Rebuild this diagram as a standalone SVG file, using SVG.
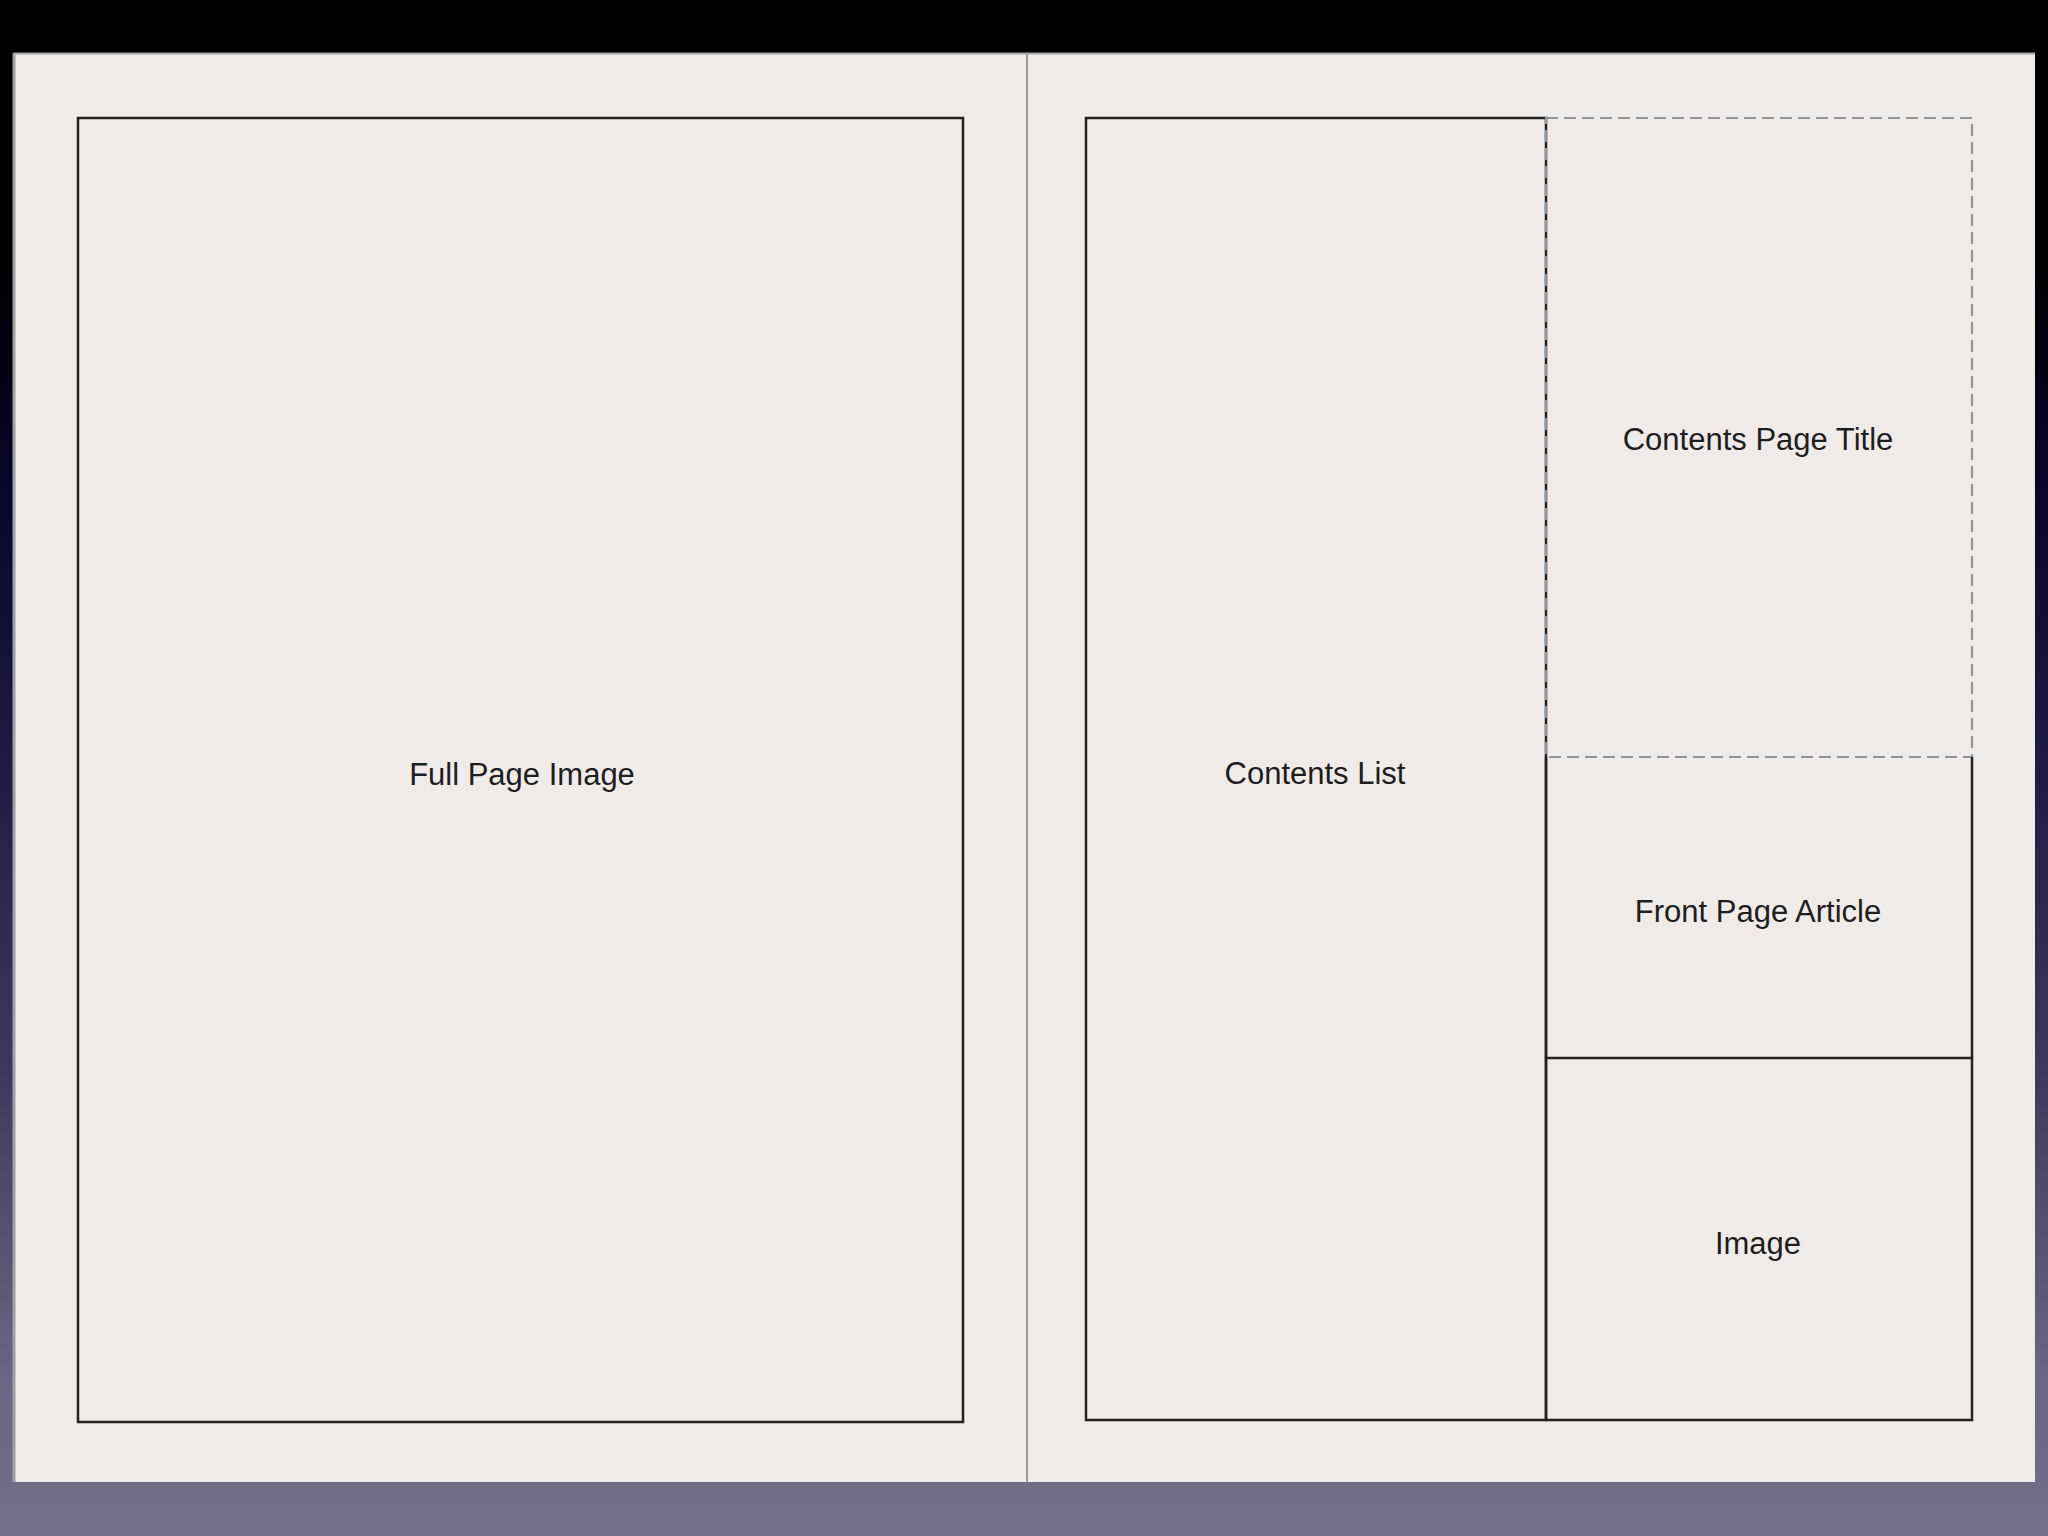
<svg xmlns="http://www.w3.org/2000/svg" width="2048" height="1536" viewBox="0 0 2048 1536">
  <defs>
    <linearGradient id="bg" x1="0" y1="0" x2="0" y2="1">
      <stop offset="0" stop-color="#000000"/>
      <stop offset="0.17" stop-color="#000000"/>
      <stop offset="0.32" stop-color="#08062a"/>
      <stop offset="0.5" stop-color="#1f1b45"/>
      <stop offset="0.7" stop-color="#3e3a5d"/>
      <stop offset="0.9" stop-color="#6a6782"/>
      <stop offset="1" stop-color="#736f89"/>
    </linearGradient>
    <style>
      .box { fill: none; stroke: #222222; stroke-width: 2.5; }
      .dash { fill: none; stroke: #8f959c; stroke-width: 2.2; stroke-dasharray: 12 6; }
      .lbl { font-family: "Liberation Sans", Arial, sans-serif; font-size: 31px; fill: #1e1e1e; text-anchor: middle; }
    </style>
  </defs>
  <rect x="0" y="0" width="2048" height="1536" fill="url(#bg)"/>
  <g id="page">
    <rect x="13" y="53" width="2022" height="1429" fill="#efebe9"/>
    <line x1="13" y1="53.5" x2="2035" y2="53.5" stroke="#a8a8a8" stroke-width="2"/>
    <line x1="14" y1="53" x2="14" y2="1482" stroke="#a0a0a0" stroke-width="3"/>
    <line x1="1027" y1="54" x2="1027" y2="1482" stroke="#9a9a9a" stroke-width="2"/>
  </g>
  <g id="full-page-image">
    <rect class="box" x="78" y="118" width="885" height="1304"/>
    <text class="lbl" x="522" y="785">Full Page Image</text>
  </g>
  <g id="contents-list">
    <rect class="box" x="1086" y="118" width="460" height="1302"/>
    <text class="lbl" x="1315" y="784">Contents List</text>
  </g>
  <g id="contents-page-title">
    <rect class="dash" x="1546" y="118" width="426" height="639"/>
    <text class="lbl" x="1758" y="450">Contents Page Title</text>
  </g>
  <g id="front-page-article">
    <path class="box" d="M1546 757 V1058 M1972 757 V1058"/>
    <text class="lbl" x="1758" y="922">Front Page Article</text>
  </g>
  <g id="image">
    <rect class="box" x="1546" y="1058" width="426" height="362"/>
    <text class="lbl" x="1758" y="1254">Image</text>
  </g>
  <g id="connectors"/>
</svg>
